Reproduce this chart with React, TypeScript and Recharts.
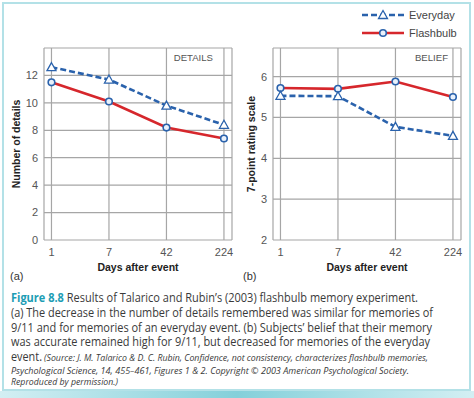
import { LineChart, Line, XAxis, YAxis, CartesianGrid, ReferenceArea } from 'recharts';

// ---- data ----
const days = ['1', '7', '42', '224'];
const detailsEveryday = [12.6, 11.7, 9.8, 8.4];
const detailsFlashbulb = [11.5, 10.1, 8.2, 7.4];
const beliefEveryday = [5.53, 5.52, 4.77, 4.55];
const beliefFlashbulb = [5.72, 5.7, 5.88, 5.5];
const detailsTicks = [0, 2, 4, 6, 8, 10, 12];
const beliefTicks = [2, 3, 4, 5, 6];
const dayIndexTicks = [0, 1, 2, 3];

const BLUE = '#2a62ac';
const RED = '#d6272c';
const GRID = '#a6a6a6';
const FRAME = '#8c8c8c';
const TEAL = '#1c9db4';
const FONT = "'Liberation Sans', Arial, sans-serif";
const CAPTION_FONT = "'Open Sans', 'Noto Sans', sans-serif";

const TriangleDot = (props: any) => {
  const { cx, cy } = props;
  if (cx == null || cy == null) return null;
  return (
    <path
      d={`M${cx},${cy - 4.5} L${cx + 4.5},${cy + 3.5} L${cx - 4.5},${cy + 3.5} Z`}
      fill="#fff"
      stroke={BLUE}
      strokeWidth={1.3}
    />
  );
};

const CircleDot = (props: any) => {
  const { cx, cy } = props;
  if (cx == null || cy == null) return null;
  return <circle cx={cx} cy={cy} r={3.3} fill="#e9f1fb" stroke={BLUE} strokeWidth={1.6} />;
};

const YTitle = (props: any) => {
  const { viewBox, value, dx } = props;
  const x = viewBox.x + dx;
  const y = viewBox.y + viewBox.height / 2;
  return (
    <text
      x={x}
      y={y}
      transform={`rotate(-90 ${x} ${y})`}
      textAnchor="middle"
      dominantBaseline="central"
      fontSize={10.5}
      fontWeight="bold"
      fill="#222"
      fontFamily={FONT}
    >
      {value}
    </text>
  );
};

const XTitle = (props: any) => {
  const { viewBox, value } = props;
  return (
    <text
      x={viewBox.x + viewBox.width / 2}
      y={viewBox.y + 27}
      textAnchor="middle"
      dominantBaseline="central"
      fontSize={10.5}
      fontWeight="bold"
      fill="#222"
      fontFamily={FONT}
    >
      {value}
    </text>
  );
};

interface PanelProps {
  left: number;
  everyday: number[];
  flashbulb: number[];
  domain: [number, number];
  ticks: number[];
  yTitle: string;
  yTitleDx: number;
}

function Panel({ left, everyday, flashbulb, domain, ticks, yTitle, yTitleDx }: PanelProps) {
  const data = days.map((d, i) => ({ idx: i, day: d, everyday: everyday[i], flashbulb: flashbulb[i] }));
  return (
    <div style={{ position: 'absolute', left, top: 0, fontFamily: FONT }}>
      <LineChart width={240} height={280} data={data} margin={{ top: 48, right: 8, bottom: 10, left: 0 }}>
        <CartesianGrid stroke={GRID} strokeWidth={1.2} />
        <XAxis
          type="number"
          dataKey="idx"
          domain={[-0.13, 3.14]}
          ticks={dayIndexTicks}
          tickFormatter={(v: number) => days[v]}
          axisLine={false}
          tickLine={false}
          height={30}
          tick={{ fontSize: 11, fill: '#555' }}
          label={<XTitle value="Days after event" />}
        />
        <YAxis
          type="number"
          domain={domain}
          ticks={ticks}
          axisLine={false}
          tickLine={false}
          tickSize={4}
          width={44}
          tick={{ fontSize: 11, fill: '#555' }}
          label={<YTitle value={yTitle} dx={yTitleDx} />}
        />
        {/* plot frame */}
        <ReferenceArea fill="none" stroke={FRAME} strokeWidth={1.6} fillOpacity={0} />
        <Line
          dataKey="flashbulb"
          stroke={RED}
          strokeWidth={2.6}
          dot={<CircleDot />}
          isAnimationActive={false}
        />
        <Line
          dataKey="everyday"
          stroke={BLUE}
          strokeWidth={2.6}
          strokeDasharray="6 3"
          dot={<TriangleDot />}
          isAnimationActive={false}
        />
      </LineChart>
    </div>
  );
}

const captionLines = [
  'The decrease in the number of details remembered was similar for memories of',
  '9/11 and for memories of an everyday event. (b) Subjects’ belief that their memory',
  'was accurate remained high for 9/11, but decreased for memories of the everyday',
];

export default function App() {
  return (
    <div style={{ position: 'absolute', left: 0, top: 0, width: 474, height: 398, background: '#fff' }}>
      <svg width={474} height={398} style={{ position: 'absolute', left: 0, top: 0 }}>
        <defs>
          <linearGradient id="shadow" x1="0" y1="0" x2="1" y2="0">
            <stop offset="0%" stopColor="#d3eff3" />
            <stop offset="50%" stopColor="#84d0da" />
            <stop offset="100%" stopColor="#d3eff3" />
          </linearGradient>
        </defs>
        <rect x={0} y={391} width={474} height={7} fill="url(#shadow)" />
        <rect x={3} y={3} width={467} height={387} fill="#fff" stroke="#b3e1e7" strokeWidth={2} />

        {/* legend */}
        <g fontFamily={FONT} fontSize={11} fill="#444">
          <line x1={362} y1={15} x2={405} y2={15} stroke={BLUE} strokeWidth={2.6} strokeDasharray="6 3" />
          <TriangleDot cx={383} cy={15} />
          <text x={409} y={15} dominantBaseline="central">Everyday</text>
          <line x1={362} y1={33} x2={404} y2={33} stroke={RED} strokeWidth={2.6} />
          <CircleDot cx={383} cy={33} />
          <text x={409} y={33} dominantBaseline="central">Flashbulb</text>
        </g>

        {/* panel tags */}
        <g fontFamily={FONT} fontSize={9.6} fill="#555">
          <text x={213} y={57} textAnchor="end" dominantBaseline="central">DETAILS</text>
          <text x={448} y={57} textAnchor="end" dominantBaseline="central">BELIEF</text>
        </g>

        <g fontFamily={FONT} fontSize={11} fill="#333">
          <text x={10} y={276} dominantBaseline="central">(a)</text>
          <text x={243} y={276} dominantBaseline="central">(b)</text>
        </g>

        {/* caption */}
        <g fontFamily={CAPTION_FONT} fill="#3a3a3a">
          <text x={11} y={302} fontSize={12.5} textLength={407} lengthAdjust="spacingAndGlyphs">
            <tspan fill={TEAL} fontWeight="bold">Figure 8.8</tspan>
            <tspan>  Results of Talarico and Rubin’s (2003) flashbulb memory experiment.</tspan>
          </text>
          <text x={11} y={317} fontSize={12.5} textLength={422} lengthAdjust="spacingAndGlyphs">
            (a) {captionLines[0]}
          </text>
          <text x={11} y={331.5} fontSize={12.5} textLength={421} lengthAdjust="spacingAndGlyphs">
            {captionLines[1]}
          </text>
          <text x={11} y={346} fontSize={12.5} textLength={419} lengthAdjust="spacingAndGlyphs">
            {captionLines[2]}
          </text>
          <text x={11} y={361} fontSize={12.5} textLength={31} lengthAdjust="spacingAndGlyphs">
            event.
          </text>
          <text x={44} y={360.5} fontSize={9.5} fontStyle="italic" textLength={384} lengthAdjust="spacingAndGlyphs">
            (Source: J. M. Talarico &amp; D. C. Rubin, Confidence, not consistency, characterizes flashbulb memories,
          </text>
          <text x={11} y={373.5} fontSize={9.5} fontStyle="italic" textLength={398} lengthAdjust="spacingAndGlyphs">
            Psychological Science, 14, 455–461, Figures 1 &amp; 2. Copyright © 2003 American Psychological Society.
          </text>
          <text x={11} y={385} fontSize={9.5} fontStyle="italic" textLength={107} lengthAdjust="spacingAndGlyphs">
            Reproduced by permission.)
          </text>
        </g>
      </svg>

      <Panel
        left={0}
        everyday={detailsEveryday}
        flashbulb={detailsFlashbulb}
        domain={[0, 14]}
        ticks={detailsTicks}
        yTitle="Number of details"
        yTitleDx={16}
      />
      <Panel
        left={229}
        everyday={beliefEveryday}
        flashbulb={beliefFlashbulb}
        domain={[2, 6.7]}
        ticks={beliefTicks}
        yTitle="7-point rating scale"
        yTitleDx={21.5}
      />
    </div>
  );
}
